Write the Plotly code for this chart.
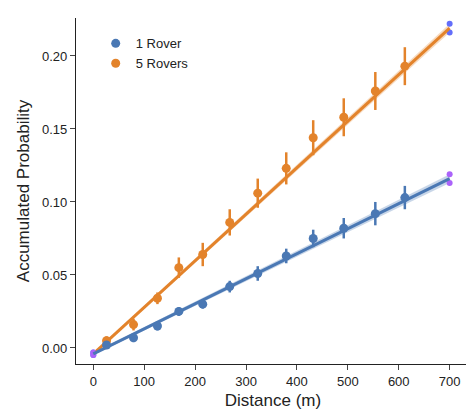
import plotly.graph_objects as go

# =========================
# DATA
# =========================
distance = [26, 79, 126, 168, 215, 268, 323, 379, 432, 492, 554, 612]

one_rover = [0.002, 0.007, 0.015, 0.025, 0.030, 0.042, 0.051, 0.063, 0.075, 0.082, 0.092, 0.103]
one_rover_err = [0.002, 0.003, 0.003, 0.003, 0.003, 0.004, 0.005, 0.005, 0.006, 0.007, 0.008, 0.008]

five_rovers = [0.005, 0.016, 0.034, 0.055, 0.064, 0.086, 0.106, 0.123, 0.144, 0.158, 0.176, 0.193]
five_rovers_err = [0.003, 0.004, 0.004, 0.007, 0.008, 0.009, 0.010, 0.011, 0.012, 0.013, 0.013, 0.013]

fit_x = [0, 700]
one_fit = [-0.004, 0.116]
five_fit = [-0.004, 0.219]
band_half = [0.0008, 0.003]

BLUE = "#4a78b4"
ORANGE = "#e3832b"

fig = go.Figure()


def add_series(name, y, err, fit, color, fill):
    # confidence band
    fig.add_trace(go.Scatter(
        x=fit_x + fit_x[::-1],
        y=[f + b for f, b in zip(fit, band_half)] + [f - b for f, b in zip(fit[::-1], band_half[::-1])],
        fill="toself", fillcolor=fill, line=dict(width=0),
        showlegend=False, hoverinfo="skip"))
    fig.add_trace(go.Scatter(
        x=fit_x, y=fit, mode="lines", line=dict(color=color, width=3),
        showlegend=False, hoverinfo="skip"))
    fig.add_trace(go.Scatter(
        x=distance, y=y, mode="markers", name=name,
        marker=dict(color=color, size=9),
        error_y=dict(type="data", array=err, color=color, thickness=2.5, width=0)))


add_series("5 Rovers", five_rovers, five_rovers_err, five_fit, ORANGE, "rgba(227,131,43,0.3)")
add_series("1 Rover", one_rover, one_rover_err, one_fit, BLUE, "rgba(74,120,180,0.3)")

# =========================
# LAYOUT
# =========================
fig.update_layout(
    width=474, height=412,
    plot_bgcolor="white", paper_bgcolor="white",
    font=dict(family="Liberation Sans, Arial, sans-serif", size=13, color="#222"),
    margin=dict(l=68, r=12, t=10, b=56),
    legend=dict(x=0.05, y=0.97, traceorder="reversed", font=dict(size=13),
                bgcolor="rgba(0,0,0,0)"),
)

fig.update_xaxes(
    range=[-34, 740], tickvals=[0, 100, 200, 300, 400, 500, 600, 700],
    showline=True, linecolor="#222", linewidth=1.2, ticks="outside", ticklen=5,
    showgrid=False, zeroline=False,
    title=dict(text="Distance (m)", font=dict(size=17), standoff=6))

fig.update_yaxes(
    range=[-0.011, 0.226], tickvals=[0, 0.05, 0.10, 0.15, 0.20], tickformat=".2f",
    showline=True, linecolor="#222", linewidth=1.2, ticks="outside", ticklen=5,
    showgrid=False, zeroline=False,
    title=dict(text="Accumulated Probability", font=dict(size=17), standoff=8))

fig.write_html("out.html")
